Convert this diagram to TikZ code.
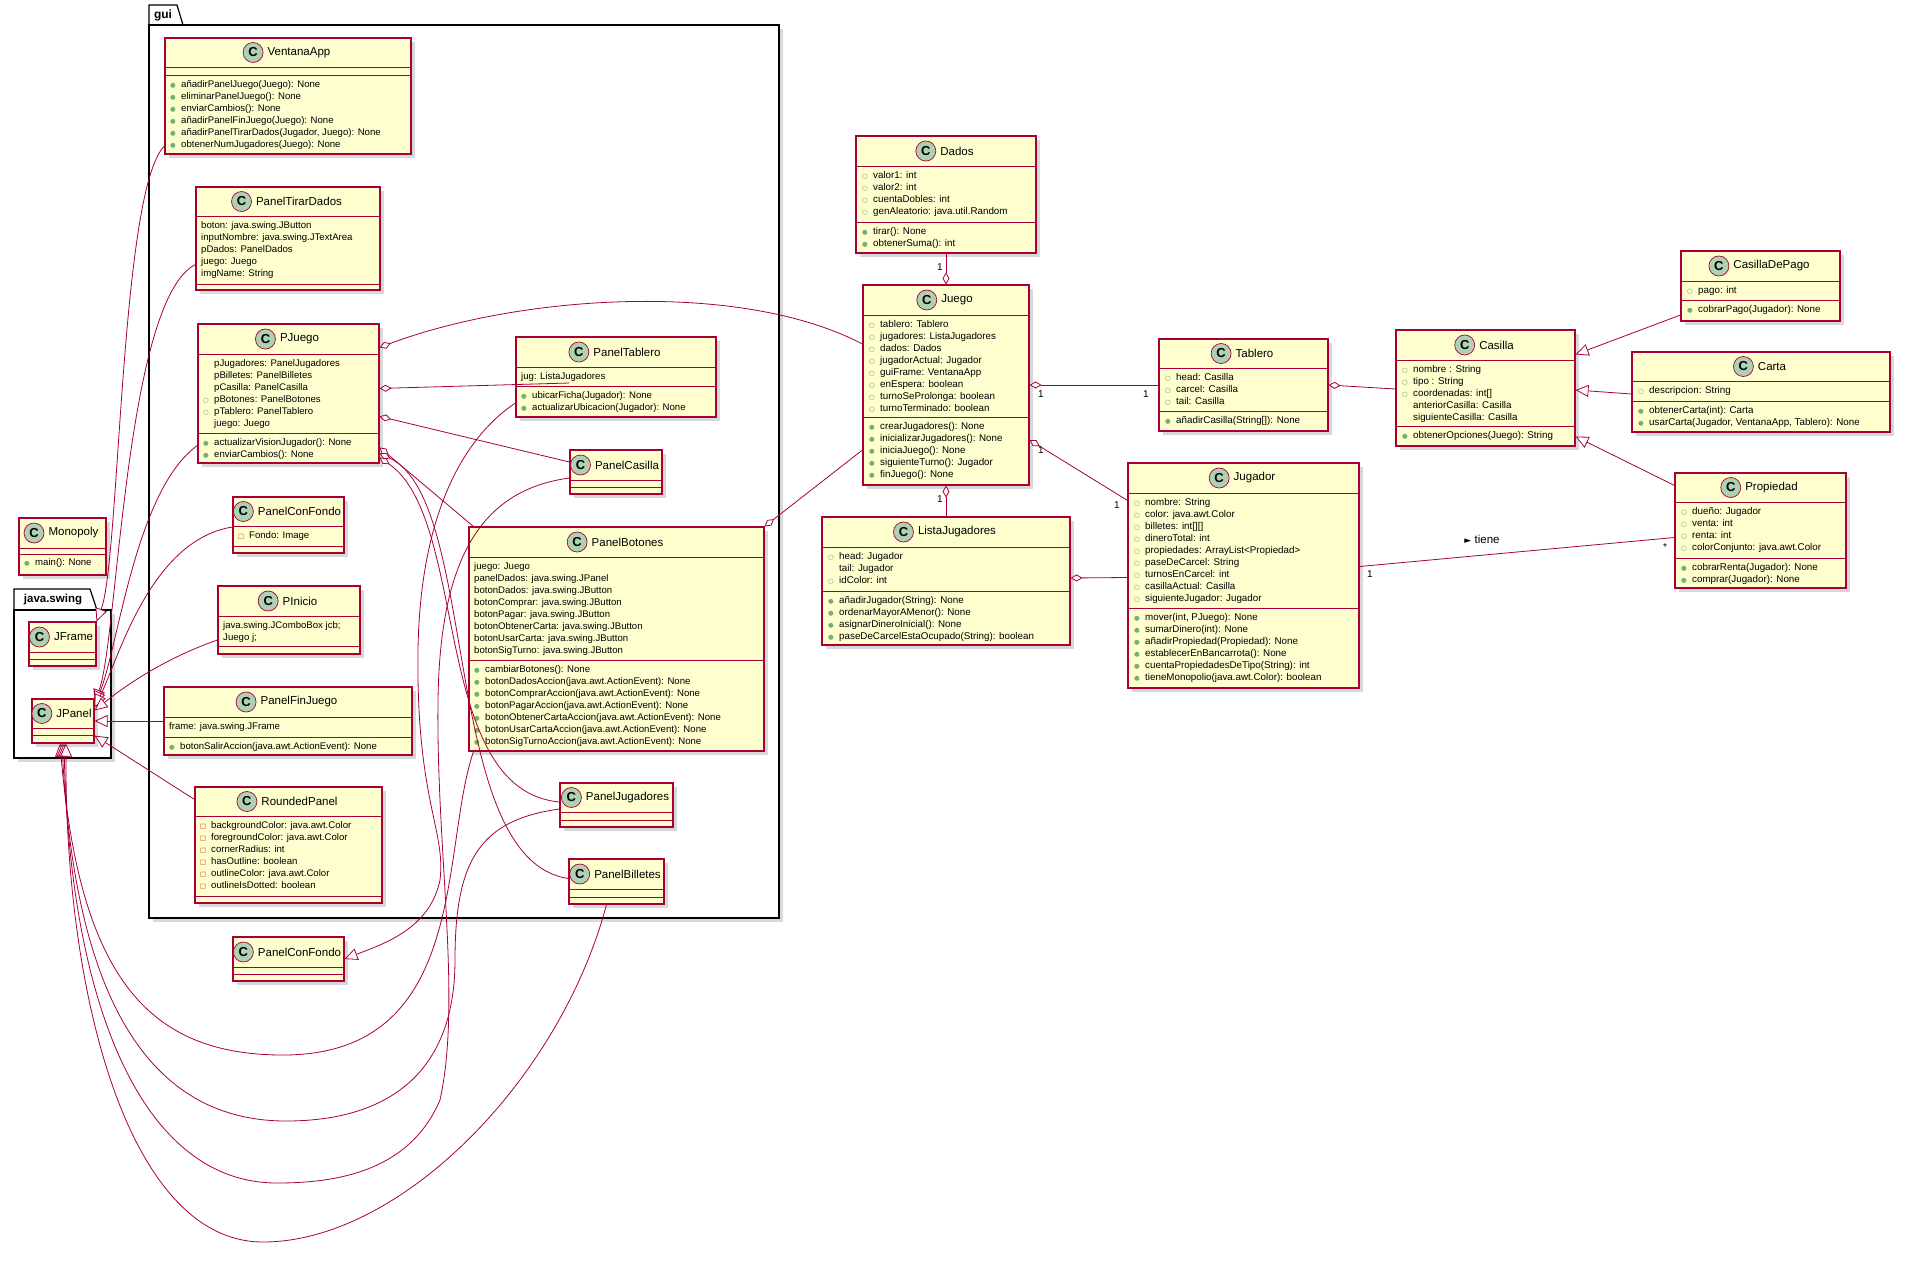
\documentclass[tikz,border=0pt]{standalone}
\usepackage{fontspec}
\setmainfont{Liberation Sans}
\newfontfamily\symf{DejaVu Sans}
\usetikzlibrary{arrows.meta,positioning}
\definecolor{bord}{HTML}{A80036}
\definecolor{cfill}{HTML}{FEFECE}
\definecolor{cc}{HTML}{ADD1B2}
\definecolor{icog}{HTML}{4E9E4E}
\definecolor{icor}{HTML}{C82930}
\newcommand\vpf{\makebox[11pt][l]{\symf\fontsize{6.5}{6}\selectfont\color{icog}○}}
\newcommand\vpm{\makebox[11pt][l]{\symf\fontsize{6.5}{6}\selectfont\color{icog!80}●}}
\newcommand\vpr{\makebox[11pt][l]{\symf\fontsize{6.5}{6}\selectfont\color{icor}□}}
\newcommand\vno{\makebox[11pt][l]{}}
\newcommand\gf{\fontsize{9.6}{12}\selectfont}
\newcommand\rf{\fontsize{9.8}{12}\selectfont}
\newcommand\ttl{\fontsize{11.5}{12}\selectfont}
\tikzset{
 cbox/.style={draw=bord,fill=cfill,line width=1.1pt,inner sep=0pt},
 cline/.style={draw=bord,line width=1pt},
 circ/.style={circle,draw=bord,fill=cc,line width=0.7pt,minimum size=20pt,inner sep=0pt,font=\fontsize{13}{13}\selectfont\bfseries},
 rel/.style={draw=bord,line width=0.8pt},
 agg/.style={rel,{Diamond[open,fill=white,length=12pt,width=7pt]}-},
 inh/.style={rel,-{Triangle[open,fill=white,length=13pt,width=12pt]}},
 mult/.style={font=\fontsize{10}{10}\selectfont,inner sep=1pt},
 pkg/.style={draw=black,line width=1.2pt,fill=white},
}
\newcommand\cls[8]{%
 \fill[black!30,opacity=.5] (#2+4,#3+4) rectangle (#4+4,#5+4);
 \node[cbox,minimum width={(#4-#2)*1pt},minimum height={(#5-#3)*1pt}] (#1) at ({(#2+#4)/2},{(#3+#5)/2}) {};
 \draw[cline] (#2,#6) -- (#4,#6);
 \draw[cline] (#2,#7) -- (#4,#7);
 \node[font=\ttl,inner sep=1pt] (#1-t) at ({(#2+#4)/2+11},{(#3+#6)/2}) {#8};
 \node[circ,left=3pt of #1-t] (#1-c) {C};
}
\newcommand\tx[5]{\node[anchor=north west,align=left,inner sep=0pt,font=#4] (#1) at (#2,#3) {#5};}
\begin{document}
\begin{tikzpicture}[x=1pt,y=-1pt]
\useasboundingbox (0,0) rectangle (1905,1274);
% packages
\fill[black!30,opacity=.5] (153,29) rectangle (783,922);
\draw[pkg] (149,25) -- (149,5) -- (177,5) -- (183,25) -- cycle;
\draw[pkg] (149,25) rectangle (779,918);
\node[font=\fontsize{12}{12}\selectfont\bfseries] (guilbl) at (163,15) {gui};
\fill[black!30,opacity=.5] (18,614) rectangle (115,762);
\draw[pkg] (14,610) -- (14,589) -- (90,589) -- (97,610) -- cycle;
\draw[pkg] (14,610) rectangle (111,758);
\node[font=\fontsize{11.5}{12}\selectfont\bfseries] (swlbl) at (53,600) {java.swing};
% gui classes
\cls{ventana}{165}{38}{411}{154}{67}{75}{VentanaApp}
\tx{ventana-m}{170}{80}{\gf}{\vpm añadirPanelJuego(Juego): None\\\vpm eliminarPanelJuego(): None\\\vpm enviarCambios(): None\\\vpm añadirPanelFinJuego(Juego): None\\\vpm añadirPanelTirarDados(Jugador, Juego): None\\\vpm obtenerNumJugadores(Juego): None}
\cls{tirar}{196}{187}{380}{290}{216}{284}{PanelTirarDados}
\tx{tirar-a}{201}{221}{\gf}{boton: java.swing.JButton\\inputNombre: java.swing.JTextArea\\pDados: PanelDados\\juego: Juego\\imgName: String}
\cls{pjuego}{198}{324}{379}{463}{354}{433}{PJuego}
\tx{pjuego-a}{203}{359}{\gf}{\vno pJugadores: PanelJugadores\\\vno pBilletes: PanelBilletes\\\vno pCasilla: PanelCasilla\\\vpf pBotones: PanelBotones\\\vpf pTablero: PanelTablero\\\vno juego: Juego}
\tx{pjuego-m}{203}{438}{\gf}{\vpm actualizarVisionJugador(): None\\\vpm enviarCambios(): None}
\cls{ptablero}{516}{337}{716}{417}{367}{386}{PanelTablero}
\tx{ptablero-a}{521}{372}{\gf}{jug: ListaJugadores}
\tx{ptablero-m}{521}{391}{\gf}{\vpm ubicarFicha(Jugador): None\\\vpm actualizarUbicacion(Jugador): None}
\cls{pcasilla}{570}{450}{662}{494}{480}{487}{PanelCasilla}
\cls{pfondoin}{233}{497}{344}{553}{526}{546}{PanelConFondo}
\tx{pfondoin-a}{238}{531}{\gf}{\vpr Fondo: Image}
\cls{pinicio}{218}{586}{360}{654}{616}{646}{PInicio}
\tx{pinicio-a}{223}{621}{\gf}{java.swing.JComboBox jcb;\\Juego j;}
\cls{pfin}{164}{687}{412}{755}{717}{737}{PanelFinJuego}
\tx{pfin-a}{169}{722}{\gf}{frame: java.swing.JFrame}
\tx{pfin-m}{169}{742}{\gf}{\vpm botonSalirAccion(java.awt.ActionEvent): None}
\cls{rounded}{195}{787}{382}{903}{816}{896}{RoundedPanel}
\tx{rounded-a}{200}{821}{\gf}{\vpr backgroundColor: java.awt.Color\\\vpr foregroundColor: java.awt.Color\\\vpr cornerRadius: int\\\vpr hasOutline: boolean\\\vpr outlineColor: java.awt.Color\\\vpr outlineIsDotted: boolean}
\cls{pbotones}{469}{527}{764}{751}{557}{660}{PanelBotones}
\tx{pbotones-a}{474}{562}{\gf}{juego: Juego\\panelDados: java.swing.JPanel\\botonDados: java.swing.JButton\\botonComprar: java.swing.JButton\\botonPagar: java.swing.JButton\\botonObtenerCarta: java.swing.JButton\\botonUsarCarta: java.swing.JButton\\botonSigTurno: java.swing.JButton}
\tx{pbotones-m}{474}{665}{\gf}{\vpm cambiarBotones(): None\\\vpm botonDadosAccion(java.awt.ActionEvent): None\\\vpm botonComprarAccion(java.awt.ActionEvent): None\\\vpm botonPagarAccion(java.awt.ActionEvent): None\\\vpm botonObtenerCartaAccion(java.awt.ActionEvent): None\\\vpm botonUsarCartaAccion(java.awt.ActionEvent): None\\\vpm botonSigTurnoAccion(java.awt.ActionEvent): None}
\cls{pjug}{560}{783}{673}{827}{812}{820}{PanelJugadores}
\cls{pbill}{569}{859}{664}{904}{889}{897}{PanelBilletes}
\cls{pfondo}{233}{937}{344}{981}{967}{974}{PanelConFondo}
% swing
\cls{jframe}{29}{622}{96}{666}{652}{659}{JFrame}
\cls{jpanel}{32}{699}{94}{743}{728}{735}{JPanel}
\cls{monopoly}{19}{518}{106}{575}{548}{554}{Monopoly}
\tx{monopoly-m}{24}{558}{\gf}{\vpm main(): None}
% right classes
\cls{dados}{856}{136}{1036}{253}{166}{222}{Dados}
\tx{dados-a}{862}{171}{\rf}{\vpf valor1: int\\\vpf valor2: int\\\vpf cuentaDobles: int\\\vpf genAleatorio: java.util.Random}
\tx{dados-m}{862}{227}{\rf}{\vpm tirar(): None\\\vpm obtenerSuma(): int}
\cls{juego}{863}{285}{1029}{485}{315}{417}{Juego}
\tx{juego-a}{869}{320}{\rf}{\vpf tablero: Tablero\\\vpf jugadores: ListaJugadores\\\vpf dados: Dados\\\vpf jugadorActual: Jugador\\\vpf guiFrame: VentanaApp\\\vpf enEspera: boolean\\\vpf turnoSeProlonga: boolean\\\vpf turnoTerminado: boolean}
\tx{juego-m}{869}{422}{\rf}{\vpm crearJugadores(): None\\\vpm inicializarJugadores(): None\\\vpm iniciaJuego(): None\\\vpm siguienteTurno(): Jugador\\\vpm finJuego(): None}
\cls{tablero}{1159}{339}{1328}{431}{368}{411}{Tablero}
\tx{tablero-a}{1165}{373}{\rf}{\vpf head: Casilla\\\vpf carcel: Casilla\\\vpf tail: Casilla}
\tx{tablero-m}{1165}{416}{\rf}{\vpm añadirCasilla(String[]): None}
\cls{lista}{822}{517}{1070}{645}{547}{591}{ListaJugadores}
\tx{lista-a}{828}{552}{\rf}{\vpf head: Jugador\\\vno tail: Jugador\\\vpf idColor: int}
\tx{lista-m}{828}{596}{\rf}{\vpm añadirJugador(String): None\\\vpm ordenarMayorAMenor(): None\\\vpm asignarDineroInicial(): None\\\vpm paseDeCarcelEstaOcupado(String): boolean}
\cls{jugador}{1128}{463}{1359}{688}{493}{608}{Jugador}
\tx{jugador-a}{1134}{498}{\rf}{\vpf nombre: String\\\vpf color: java.awt.Color\\\vpf billetes: int[][]\\\vpf dineroTotal: int\\\vpf propiedades: ArrayList<Propiedad>\\\vpf paseDeCarcel: String\\\vpf turnosEnCarcel: int\\\vpf casillaActual: Casilla\\\vpf siguienteJugador: Jugador}
\tx{jugador-m}{1134}{613}{\rf}{\vpm mover(int, PJuego): None\\\vpm sumarDinero(int): None\\\vpm añadirPropiedad(Propiedad): None\\\vpm establecerEnBancarrota(): None\\\vpm cuentaPropiedadesDeTipo(String): int\\\vpm tieneMonopolio(java.awt.Color): boolean}
\cls{casilla}{1396}{330}{1575}{446}{360}{426}{Casilla}
\tx{casilla-a}{1402}{365}{\rf}{\vpf nombre : String\\\vpf tipo : String\\\vpf coordenadas: int[]\\\vno anteriorCasilla: Casilla\\\vno siguienteCasilla: Casilla}
\tx{casilla-m}{1402}{431}{\rf}{\vpm obtenerOpciones(Juego): String}
\cls{pago}{1681}{251}{1840}{321}{281}{300}{CasillaDePago}
\tx{pago-a}{1687}{286}{\rf}{\vpf pago: int}
\tx{pago-m}{1687}{305}{\rf}{\vpm cobrarPago(Jugador): None}
\cls{carta}{1632}{352}{1890}{432}{381}{401}{Carta}
\tx{carta-a}{1638}{386}{\rf}{\vpf descripcion: String}
\tx{carta-m}{1638}{406}{\rf}{\vpm obtenerCarta(int): Carta\\\vpm usarCarta(Jugador, VentanaApp, Tablero): None}
\cls{prop}{1675}{473}{1846}{588}{502}{558}{Propiedad}
\tx{prop-a}{1681}{507}{\rf}{\vpf dueño: Jugador\\\vpf venta: int\\\vpf renta: int\\\vpf colorConjunto: java.awt.Color}
\tx{prop-m}{1681}{563}{\rf}{\vpm cobrarRenta(Jugador): None\\\vpm comprar(Jugador): None}
% right relations
\draw[rel,-{Diamond[open,fill=white,length=12pt,width=7pt]}] (dados.south) -- (juego.north);
\node[mult] (m1) at (940,267) {1};
\draw[agg] (juego.east) -- (tablero.west);
\node[mult] (m2) at (1041,394) {1};
\node[mult] (m3) at (1146,394) {1};
\draw[agg] (tablero.east) -- ([yshift=-1pt]casilla.west);
\draw[agg] ([yshift=-55pt]juego.east) -- ([yshift=-38pt]jugador.north west);
\node[mult] (m4) at (1041,450) {1};
\node[mult] (m5) at (1117,505) {1};
\draw[agg] (juego.south) -- (lista.north);
\node[mult] (m6) at (940,499) {1};
\draw[agg] ([yshift=3pt]lista.east) -- ([yshift=-2pt]jugador.west);
\draw[rel] ([yshift=9pt]jugador.east) -- ([yshift=-7pt]prop.west);
\node[mult] (m7) at (1370,574) {1};
\node[mult] (m8) at (1665,547) {*};
\node[font=\fontsize{11.5}{12}\selectfont] (tiene) at (1482,539) {{\symf\fontsize{9}{9}\selectfont ►} tiene};
\draw[inh] ([yshift=-29pt]pago.west) -- ([yshift=-25pt]casilla.north east);
\draw[inh] ([yshift=-2pt]carta.west) -- ([yshift=-2pt]casilla.east);
\draw[inh] ([yshift=-13pt]prop.north west) -- ([yshift=10pt]casilla.south east);
% gui aggregations
\draw[agg] ([yshift=-24pt]pjuego.north east) .. controls (520,295) and (740,280) .. ([yshift=41pt]juego.west);
\draw[agg] ([yshift=-65pt]pjuego.north east) -- ([yshift=-6pt]pcasilla.west |- ptablero.west);
\draw[agg] ([yshift=-93pt]pjuego.north east) -- ([yshift=10pt]pcasilla.west);
\draw[agg] ([yshift=-124pt]pjuego.north east) -- ([xshift=5pt]pbotones.north west);
\draw[agg] ([yshift=-134pt]pjuego.north east) .. controls (470,520) and (430,790) .. ([yshift=3pt]pjug.west);
\draw[agg] ([yshift=-130pt]pjuego.north east) .. controls (480,500) and (440,860) .. ([yshift=3pt]pbill.west);
\draw[agg] (pbotones.north east) -- ([yshift=-65pt]juego.west);
% inheritance
\draw[inh] ([yshift=-50pt]ventana.west) .. controls (120,190) and (120,560) .. (jframe.north east);
\draw[inh] ([yshift=-26pt]tirar.west) .. controls (125,300) and (118,640) .. ([yshift=-4pt]jpanel.north east);
\draw[inh] ([yshift=-52pt]pjuego.west) .. controls (135,490) and (118,650) .. ([yshift=-6pt]jpanel.north east);
\draw[inh] ([yshift=-2pt]pfondoin.west) .. controls (150,540) and (118,660) .. ([yshift=-9pt]jpanel.north east);
\draw[inh] ([yshift=-20pt]pinicio.west) .. controls (160,660) and (120,690) .. ([yshift=-12pt]jpanel.north east);
\draw[inh] (pfin.west) -- (jpanel.east);
\draw[inh] ([yshift=-13pt]rounded.north west) -- ([yshift=8pt]jpanel.south east);
\draw[inh] ([yshift=-26pt]ptablero.west) .. controls (460,440) and (420,520) .. (418,650) .. controls (416,800) and (446,830) .. (440,880) .. controls (430,930) and (380,945) .. (pfondo.east);
\draw[inh] ([xshift=5pt]pbotones.south west) .. controls (440,850) and (470,1055) .. (283,1055) .. controls (150,1055) and (80,980) .. ([xshift=-3pt]jpanel.south);
\draw[inh] ([yshift=-4pt]pjug.west) .. controls (480,820) and (455,860) .. (455,960) .. controls (455,1080) and (380,1121) .. (286,1121) .. controls (150,1121) and (75,1000) .. ([xshift=-1pt]jpanel.south);
\draw[inh] ([yshift=-6pt]pcasilla.west) .. controls (480,490) and (440,560) .. (438,700) .. controls (436,850) and (462,1000) .. (440,1100) .. controls (410,1170) and (340,1183) .. (277,1183) .. controls (140,1183) and (70,1000) .. ([xshift=1pt]jpanel.south);
\draw[inh] ([xshift=-10pt]pbill.south) .. controls (560,1080) and (400,1242) .. (263,1242) .. controls (130,1242) and (65,1000) .. ([xshift=3pt]jpanel.south);
\end{tikzpicture}
\end{document}
